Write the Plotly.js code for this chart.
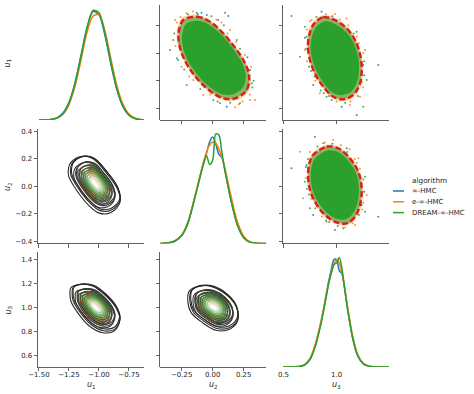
<!DOCTYPE html>
<html><head><meta charset="utf-8">
<script src="https://cdn.plot.ly/plotly-3.0.1.min.js"></script>
<style>html,body{margin:0;padding:0;background:#fff}#chart{width:474px;height:394px}</style>
</head><body><div id="chart"></div>
<script>
// ---------------- DATA ----------------
const algorithms = ['∞-HMC', 'e-∞-HMC', 'DREAM-∞-HMC'];
const variables = ['u1', 'u2', 'u3'];

// tick values / labels
const u1Ticks = [-1.5, -1.25, -1.0, -0.75];
const u1TickText = ['−1.50', '−1.25', '−1.00', '−0.75'];
const u1RowTicks = [-1.4, -1.2, -1.0, -0.8];
const u1RowTickText = ['−1.4', '−1.2', '−1.0', '−0.8'];
const u2Ticks = [-0.25, 0.0, 0.25];
const u2TickText = ['−0.25', '0.00', '0.25'];
const u2RowTicks = [-0.4, -0.2, 0.0, 0.2, 0.4];
const u2RowTickText = ['−0.4', '−0.2', '0.0', '0.2', '0.4'];
const u3Ticks = [0.5, 1.0];
const u3TickText = ['0.5', '1.0'];
const u3RowTicks = [0.6, 0.8, 1.0, 1.2, 1.4];
const u3RowTickText = ['0.6', '0.8', '1.0', '1.2', '1.4'];

// diagonal KDE curves (density)
const u1Grid = [-1.50,-1.45,-1.40,-1.35,-1.30,-1.25,-1.20,-1.15,-1.10,-1.05,-1.00,-0.95,-0.90,-0.85,-0.80,-0.75,-0.70,-0.65,-0.60];
const u1DensHMC   = [0.001,0.005,0.020,0.070,0.22,0.56,1.18,2.05,2.93,3.45,3.34,2.68,1.76,0.95,0.42,0.15,0.045,0.011,0.003];
const u1DensE     = [0.001,0.004,0.015,0.058,0.18,0.49,1.06,1.90,2.78,3.30,3.34,2.82,1.93,1.07,0.50,0.19,0.060,0.015,0.004];
const u1DensDREAM = [0.001,0.004,0.017,0.064,0.20,0.53,1.14,2.01,2.91,3.48,3.41,2.75,1.82,0.99,0.45,0.16,0.050,0.012,0.003];

const u2Grid = [-0.425,-0.40,-0.35,-0.30,-0.25,-0.20,-0.15,-0.10,-0.075,-0.05,-0.025,0.0,0.025,0.05,0.075,0.10,0.15,0.20,0.25,0.30,0.35,0.40,0.435];
const u2DensHMC   = [0,0.004,0.025,0.10,0.29,0.74,1.56,2.46,2.91,3.28,3.69,3.87,3.61,3.24,3.12,2.62,1.52,0.66,0.21,0.05,0.012,0.001,0];
const u2DensE     = [0,0.008,0.033,0.115,0.31,0.78,1.60,2.50,2.95,3.32,3.57,3.69,3.65,3.44,3.12,2.71,1.68,0.78,0.27,0.066,0.016,0.004,0];
const u2DensDREAM = [0,0.004,0.025,0.10,0.29,0.74,1.56,2.46,2.87,3.20,2.87,3.03,3.98,3.94,3.28,2.62,1.52,0.66,0.21,0.05,0.012,0.001,0];

const u3Grid = [0.495,0.55,0.60,0.65,0.70,0.75,0.80,0.85,0.875,0.90,0.925,0.95,0.975,1.0,1.025,1.05,1.075,1.10,1.15,1.20,1.25,1.30,1.35,1.40,1.45,1.495];
const u3DensHMC   = [0,0,0.005,0.018,0.09,0.32,0.92,1.84,2.39,2.99,3.59,4.09,4.51,4.51,4.05,3.91,3.31,2.53,1.24,0.46,0.14,0.037,0.009,0.002,0,0];
const u3DensE     = [0,0.001,0.009,0.028,0.115,0.37,0.97,1.84,2.39,2.94,3.50,3.96,4.32,4.51,4.37,3.96,3.36,2.62,1.33,0.51,0.16,0.046,0.009,0.002,0,0];
const u3DensDREAM = [0,0,0.005,0.018,0.09,0.32,0.87,1.75,2.30,2.90,3.50,3.96,4.30,4.38,4.60,4.14,3.31,2.53,1.24,0.46,0.14,0.037,0.009,0.002,0,0];

// upper panels: red dashed reference ellipses
const ell12U2 = [-0.237,-0.129,-0.035,0.059,0.153,0.247,0.293,0.274,0.180,0.085,-0.048,-0.169,-0.250,-0.277,-0.264];
const ell12U1 = [-0.762,-0.738,-0.767,-0.834,-0.930,-1.051,-1.159,-1.267,-1.327,-1.327,-1.255,-1.135,-1.002,-0.882,-0.810];
const ell13U3 = [0.779,0.874,0.984,1.094,1.173,1.226,1.236,1.220,1.157,1.062,0.968,0.874,0.795,0.742,0.732];
const ell13U1 = [-0.798,-0.742,-0.762,-0.822,-0.906,-1.027,-1.123,-1.219,-1.303,-1.334,-1.316,-1.243,-1.147,-1.027,-0.918];
const ell23U3 = [0.779,0.906,1.015,1.125,1.204,1.236,1.220,1.173,1.094,1.000,0.890,0.795,0.742,0.732,0.748];
const ell23U2 = [0.228,0.289,0.277,0.204,0.107,-0.015,-0.136,-0.222,-0.270,-0.263,-0.209,-0.112,-0.003,0.107,0.180];

// upper panels: dense sample cloud outline (solid core) and outer fringe
const core12U2 = [-0.213,-0.115,-0.031,0.054,0.139,0.223,0.265,0.247,0.163,0.077,-0.042,-0.151,-0.224,-0.249,-0.237];
const core12U1 = [-0.789,-0.768,-0.794,-0.854,-0.940,-1.049,-1.147,-1.244,-1.298,-1.298,-1.233,-1.125,-1.005,-0.897,-0.832];
const fringe12U2 = [-0.249,-0.136,-0.037,0.062,0.160,0.259,0.307,0.287,0.189,0.089,-0.051,-0.178,-0.263,-0.291,-0.278];
const fringe12U1 = [-0.748,-0.723,-0.754,-0.824,-0.925,-1.052,-1.165,-1.279,-1.342,-1.342,-1.266,-1.140,-1.000,-0.874,-0.799];
const core13U3 = [0.800,0.885,0.984,1.083,1.154,1.202,1.211,1.196,1.140,1.054,0.970,0.885,0.814,0.766,0.757];
const core13U1 = [-0.822,-0.772,-0.790,-0.844,-0.919,-1.028,-1.115,-1.201,-1.277,-1.304,-1.288,-1.223,-1.136,-1.028,-0.930];
const fringe13U3 = [0.769,0.868,0.984,1.100,1.182,1.238,1.249,1.232,1.166,1.066,0.967,0.868,0.786,0.730,0.719];
const fringe13U1 = [-0.786,-0.727,-0.748,-0.811,-0.899,-1.026,-1.127,-1.228,-1.316,-1.349,-1.330,-1.253,-1.152,-1.026,-0.912];
const core23U3 = [0.800,0.914,1.012,1.111,1.182,1.211,1.196,1.154,1.083,0.998,0.899,0.814,0.766,0.757,0.772];
const core23U2 = [0.206,0.261,0.250,0.185,0.097,-0.013,-0.121,-0.199,-0.242,-0.236,-0.187,-0.100,-0.002,0.097,0.163];
const fringe23U3 = [0.769,0.902,1.017,1.132,1.215,1.249,1.232,1.182,1.100,1.001,0.885,0.786,0.730,0.719,0.736];
const fringe23U2 = [0.239,0.303,0.290,0.214,0.112,-0.016,-0.143,-0.234,-0.284,-0.277,-0.220,-0.118,-0.004,0.112,0.189];

// upper panels: stray samples outside the dense cloud (algorithm index 0/1/2)
const speck12U2 = [0.126,0.099,-0.210,-0.304,-0.318,-0.344,-0.250,-0.210,-0.076,0.059,0.113,0.180,0.301,0.341,0.315,0.301,0.260,0.194,0.140,0.045,-0.048,-0.129,-0.277,-0.290,-0.156,0.005,0.220,0.274,
  -0.26,-0.20,-0.16,-0.09,-0.01,0.03,0.09,0.12,0.19,0.22,0.28,0.31,0.33,0.30,0.24,0.14,0.04,-0.02,-0.10,-0.19,-0.23,-0.28,-0.30,-0.31,-0.29,0.21,0.32,-0.12,0.07,-0.27];
const speck12U1 = [-0.733,-0.709,-0.713,-0.762,-0.906,-0.978,-1.099,-1.231,-1.303,-1.363,-1.388,-1.392,-1.339,-1.339,-1.219,-1.123,-1.014,-0.906,-0.834,-0.762,-0.726,-0.709,-0.834,-1.038,-1.195,-1.339,-1.363,-1.267,
  -0.74,-0.72,-0.70,-0.71,-0.735,-0.76,-0.80,-0.86,-0.92,-0.97,-1.03,-1.10,-1.20,-1.30,-1.35,-1.36,-1.35,-1.30,-1.26,-1.17,-1.12,-1.05,-0.95,-0.86,-0.78,-1.37,-1.25,-0.72,-0.78,-0.93];
const speck12Alg = [0,2,1,1,2,0,1,2,1,2,0,1,1,1,2,0,1,2,1,2,0,2,1,2,1,2,2,0,
  1,2,1,0,2,1,2,1,1,2,0,1,2,1,1,2,0,1,2,1,2,0,1,2,1,1,2,0,1,2];
const speck13U3 = [0.575,1.392,1.189,0.984,0.701,0.654,1.251,1.125,0.953,0.842,0.779,0.717,0.764,0.858,1.094,1.189,1.267,1.283,1.220,1.047,0.701,1.251,0.795,0.906,
  0.75,0.81,0.90,0.96,1.03,1.11,1.16,1.21,1.25,1.26,1.26,1.25,1.20,1.13,1.08,1.00,0.93,0.85,0.80,0.76,0.72,0.71,0.70,0.72,1.19,0.88,1.24,0.74];
const speck13U1 = [-0.733,-1.087,-1.448,-0.718,-0.978,-1.027,-1.388,-1.375,-1.339,-1.291,-1.231,-0.882,-0.762,-0.702,-0.751,-0.846,-0.978,-1.195,-1.316,-1.388,-0.810,-1.087,-1.171,-1.316,
  -0.77,-0.74,-0.72,-0.735,-0.76,-0.80,-0.86,-0.93,-1.00,-1.06,-1.16,-1.25,-1.31,-1.35,-1.36,-1.35,-1.31,-1.27,-1.20,-1.13,-1.06,-0.97,-0.89,-0.83,-0.88,-1.29,-1.21,-1.10];
const speck13Alg = [0,0,0,1,1,2,2,1,2,1,0,2,1,0,1,2,1,2,1,0,2,0,2,2,
  1,2,1,0,1,1,2,1,1,2,0,1,2,1,2,1,0,2,1,2,1,2,0,1,1,2,1,2];
const speck23U3 = [0.575,0.795,0.968,0.654,0.701,0.685,0.779,0.984,1.062,1.173,1.267,1.392,1.283,1.267,1.204,1.094,0.874,0.717,0.748,0.906,1.125,1.236,
  0.75,0.82,0.89,0.96,1.04,1.10,1.17,1.22,1.25,1.26,1.25,1.21,1.15,1.08,1.01,0.93,0.86,0.80,0.76,0.72,0.71,0.71,0.73,1.19,0.90,1.24,0.74,1.12];
const speck23U2 = [0.131,0.362,0.338,0.253,0.034,-0.088,-0.209,-0.319,-0.307,-0.282,-0.185,-0.222,-0.064,0.070,0.204,0.277,0.314,0.155,-0.161,-0.258,-0.258,-0.136,
  0.25,0.29,0.32,0.31,0.30,0.25,0.20,0.13,0.05,-0.04,-0.12,-0.21,-0.27,-0.30,-0.29,-0.26,-0.22,-0.16,-0.09,-0.02,0.06,0.14,0.20,0.17,-0.25,-0.17,-0.06,0.27];
const speck23Alg = [0,0,1,1,2,1,0,0,2,1,2,0,1,2,1,2,2,2,2,1,0,0,
  1,2,1,0,1,2,1,1,2,0,1,2,1,1,2,0,1,2,1,2,1,0,2,1,2,1,2,1];

// lower panels: outermost KDE contour outlines, centres, hue scale & shift
const cont21U1 = [-1.228,-1.144,-1.047,-0.936,-0.839,-0.819,-0.894,-0.992,-1.089,-1.186,-1.247,-1.247];
const cont21U2 = [0.180,0.223,0.209,0.107,-0.015,-0.112,-0.185,-0.190,-0.124,-0.015,0.082,0.143];
const cont21Centre = [-1.033, 0.016];
const cont31U1 = [-1.228,-1.144,-1.047,-0.936,-0.853,-0.819,-0.867,-0.964,-1.075,-1.172,-1.228,-1.236];
const cont31U3 = [1.175,1.203,1.189,1.106,1.008,0.912,0.814,0.800,0.856,0.967,1.064,1.133];
const cont31Centre = [-1.030, 1.000];
const cont32U2 = [-0.183,-0.102,0.005,0.126,0.198,0.206,0.140,0.032,-0.076,-0.169,-0.196];
const cont32U3 = [1.148,1.189,1.181,1.106,1.008,0.898,0.828,0.820,0.883,0.967,1.064];
const cont32Centre = [0.005, 1.000];
const contourLevels = [1.0, 0.79, 0.67, 0.58, 0.50, 0.43, 0.36, 0.28, 0.20];
const hueScale = [0.96, 1.0, 0.93];
const hueShift21 = [[0.004,0.004],[-0.006,-0.006],[0.006,0.010]];
const hueShift31 = [[0.004,0.000],[-0.006,-0.008],[0.006,0.010]];
const hueShift32 = [[0.003,0.000],[-0.005,-0.008],[0.005,0.010]];

// ---------------- STYLE ----------------
const palette = ['#1f77b4', '#ff7f0e', '#2ca02c'];
const ramps = [
  ['#26292e','#2b3848','#2d4b66','#2f6085','#3676a3','#4f90bd','#76abd0','#a5c8e2','#d3e5f2'],
  ['#2e2a26','#46352a','#65432a','#8a532a','#b0652d','#d27c3c','#e69c66','#f0bf98','#f8e0cc'],
  ['#262b26','#2f3d2c','#35522f','#386b31','#3d8434','#4d9d44','#6fb565','#9ccc93','#cfe6ca']
];
const FONT = 'DejaVu Sans, sans-serif';
const W = 474, H = 394;
const colPx = [[38,144],[160.3,266.3],[283,389]];
const rowPx = [[5,120],[128.5,243.5],[252,367]];
const colRange = [[-1.508,-0.625],[-0.4226,0.4323],[0.4953,1.493]];
const rowRange = [[-1.4838,-0.6534],[-0.4175,0.4219],[0.506,1.464]];
const colTicks = [[u1Ticks,u1TickText],[u2Ticks,u2TickText],[u3Ticks,u3TickText]];
const rowTicks = [[u1RowTicks,u1RowTickText],[u2RowTicks,u2RowTickText],[u3RowTicks,u3RowTickText]];
const XSTANDOFF = -3;

const traces = [];
const layout = {
  width: W, height: H, margin: {l:0, r:0, t:0, b:0},
  paper_bgcolor: '#fff', plot_bgcolor: 'rgba(0,0,0,0)', showlegend: false,
  font: {family: FONT, size: 7, color: '#262626'},
  annotations: [], shapes: []
};
const axName = p => p === 1 ? '' : String(p);
const xDom = c => [colPx[c][0]/W, colPx[c][1]/W];
const yDom = r => [1 - rowPx[r][1]/H, 1 - rowPx[r][0]/H];
const tickStyle = {ticks:'outside', ticklen:3.5, tickwidth:0.8, tickcolor:'#3a3a3a', tickmode:'array',
  tickfont:{family:FONT, size:7, color:'#262626'}};

for (let r = 0; r < 3; r++) {
  for (let c = 0; c < 3; c++) {
    const p = r * 3 + c + 1, n = axName(p);
    const common = Object.assign({showgrid:false, zeroline:false, showline:true, linecolor:'#3a3a3a', linewidth:0.8,
      fixedrange:true}, tickStyle);
    layout['xaxis' + n] = Object.assign({}, common, {
      domain: xDom(c), range: colRange[c], anchor:'y' + n, ticklabelstandoff: XSTANDOFF,
      tickvals: colTicks[c][0], ticktext: colTicks[c][1], showticklabels: r === 2 && c !== 2});
    layout['yaxis' + n] = Object.assign({}, common, {
      domain: yDom(r), range: rowRange[r], anchor:'x' + n,
      tickvals: rowTicks[r][0], ticktext: rowTicks[r][1], showticklabels: c === 0});
  }
}

// diagonal density curves on their own axes covering the diagonal panel
const diagData = [
  [u1Grid, [u1DensHMC, u1DensE, u1DensDREAM]],
  [u2Grid, [u2DensHMC, u2DensE, u2DensDREAM]],
  [u3Grid, [u3DensHMC, u3DensE, u3DensDREAM]]
];
diagData.forEach((d, i) => {
  const dn = String(10 + i);
  const mx = Math.max(...d[1].map(a => Math.max(...a)));
  const last = i === 2;   // bottom-right panel carries the u3 tick labels on this axis
  layout['xaxis' + dn] = Object.assign({}, tickStyle, {domain: xDom(i), range: colRange[i], anchor: 'y' + dn,
    visible: last, showline:false, tickcolor:'rgba(0,0,0,0)', showticklabels: last,
    tickvals: colTicks[i][0], ticktext: colTicks[i][1],
    ticklabelstandoff: XSTANDOFF, showgrid:false, zeroline:false, fixedrange:true});
  layout['yaxis' + dn] = {domain: yDom(i), range: [0, mx * 1.05], anchor: 'x' + dn, visible: false,
    showgrid:false, zeroline:false, fixedrange:true};
  d[1].forEach((dens, a) => {
    traces.push({type:'scatter', mode:'lines', x: d[0], y: dens, xaxis:'x' + dn, yaxis:'y' + dn,
      line:{color: palette[a], width:1.5, shape:'spline', smoothing:0.8}, name: algorithms[a], hoverinfo:'skip'});
  });
});

// upper scatter panels
function closed(a){ return a.concat([a[0]]); }
function upper(p, fx, fy, ex, ey, cx, cy, sx, sy, sa){
  const n = axName(p);
  traces.push({type:'scatter', mode:'lines', x: closed(fx), y: closed(fy), xaxis:'x'+n, yaxis:'y'+n,
    fill:'toself', fillcolor:'rgba(255,127,14,0.40)', line:{width:0, color:'rgba(0,0,0,0)', shape:'spline'}, hoverinfo:'skip'});
  traces.push({type:'scatter', mode:'lines', x: closed(ex), y: closed(ey), xaxis:'x'+n, yaxis:'y'+n,
    fill:'toself', fillcolor:'rgba(44,160,44,0.55)', line:{width:0, color:'rgba(0,0,0,0)', shape:'spline'}, hoverinfo:'skip'});
  traces.push({type:'scatter', mode:'lines', x: closed(cx), y: closed(cy), xaxis:'x'+n, yaxis:'y'+n,
    fill:'toself', fillcolor:'#2ca02c', line:{width:0, color:'rgba(0,0,0,0)', shape:'spline'}, hoverinfo:'skip'});
  for (let a = 0; a < 3; a++) {
    const X = [], Y = [];
    sa.forEach((g, i) => { if (g === a) { X.push(sx[i]); Y.push(sy[i]); } });
    traces.push({type:'scatter', mode:'markers', x: X, y: Y, xaxis:'x'+n, yaxis:'y'+n,
      marker:{color: palette[a], size:2.0, opacity:0.85}, hoverinfo:'skip'});
  }
  traces.push({type:'scatter', mode:'lines', x: closed(ex), y: closed(ey), xaxis:'x'+n, yaxis:'y'+n,
    line:{color:'#dd1c1c', width:2.4, dash:'6px,3px', shape:'spline'}, hoverinfo:'skip'});
}
upper(2, fringe12U2, fringe12U1, ell12U2, ell12U1, core12U2, core12U1, speck12U2, speck12U1, speck12Alg);
upper(3, fringe13U3, fringe13U1, ell13U3, ell13U1, core13U3, core13U1, speck13U3, speck13U1, speck13Alg);
upper(6, fringe23U3, fringe23U2, ell23U3, ell23U2, core23U3, core23U2, speck23U3, speck23U2, speck23Alg);

// lower contour panels
function lower(p, ox, oy, centre, shifts){
  const n = axName(p);
  for (let a = 0; a < 3; a++) {
    contourLevels.forEach((lv, k) => {
      const s = lv * hueScale[a];
      const X = [], Y = [];
      for (let i = 0; i <= ox.length; i++) {
        const j = i % ox.length;
        X.push(centre[0] + shifts[a][0] + s * (ox[j] - centre[0]));
        Y.push(centre[1] + shifts[a][1] + s * (oy[j] - centre[1]));
      }
      traces.push({type:'scatter', mode:'lines', x: X, y: Y, xaxis:'x'+n, yaxis:'y'+n,
        line:{color: ramps[a][k], width:1.1, shape:'spline', smoothing:1}, hoverinfo:'skip'});
    });
  }
}
lower(4, cont21U1, cont21U2, cont21Centre, hueShift21);
lower(7, cont31U1, cont31U3, cont31Centre, hueShift31);
lower(8, cont32U2, cont32U3, cont32Centre, hueShift32);

// axis labels
const labels = ['<i>u</i><sub>1</sub>', '<i>u</i><sub>2</sub>', '<i>u</i><sub>3</sub>'];
for (let i = 0; i < 3; i++) {
  layout.annotations.push({xref:'paper', yref:'paper', x: 8/W, y: 1 - (rowPx[i][0]+rowPx[i][1])/2/H,
    text: labels[i], showarrow:false, textangle:-90, font:{family:FONT, size:8, color:'#262626'}, xanchor:'center', yanchor:'middle'});
  layout.annotations.push({xref:'paper', yref:'paper', x: (colPx[i][0]+colPx[i][1])/2/W, y: 1 - 385/H,
    text: labels[i], showarrow:false, font:{family:FONT, size:8, color:'#262626'}, xanchor:'center', yanchor:'middle'});
}

// legend (drawn manually for compact spacing)
layout.annotations.push({xref:'paper', yref:'paper', x: 429/W, y: 1 - 180/H, text:'algorithm', showarrow:false,
  font:{family:FONT, size:7.3, color:'#262626'}, xanchor:'center', yanchor:'middle'});
const legY = [191, 201.8, 212.6];
algorithms.forEach((name, a) => {
  layout.shapes.push({type:'line', xref:'paper', yref:'paper', x0: 393/W, x1: 404/W, y0: 1 - legY[a]/H, y1: 1 - legY[a]/H,
    line:{color: palette[a], width:1.5}});
  layout.annotations.push({xref:'paper', yref:'paper', x: 410/W, y: 1 - legY[a]/H, text: name, showarrow:false,
    font:{family:FONT, size:7, color:'#262626'}, xanchor:'left', yanchor:'middle'});
});

Plotly.newPlot('chart', traces, layout, {staticPlot:true, displayModeBar:false});
</script></body></html>
